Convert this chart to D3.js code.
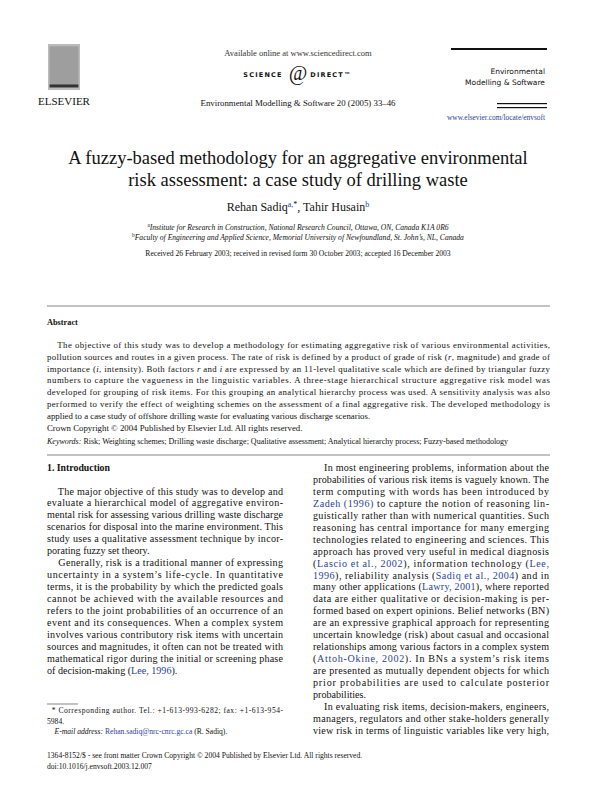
<!DOCTYPE html>
<html><head><meta charset="utf-8">
<script src="https://cdn.jsdelivr.net/npm/d3@7"></script>
<style>body{margin:0;background:#fff}svg{display:block}</style>
</head><body>
<script>
const abstractLines = [
"    The objective of this study was to develop a methodology for estimating aggregative risk of various environmental activities,~",
"pollution sources and routes in a given process. The rate of risk is defined by a product of grade of risk (|r|, magnitude) and grade of~",
"importance (|i|, intensity). Both factors |r| and |i| are expressed by an 11-level qualitative scale which are defined by triangular fuzzy~",
"numbers to capture the vagueness in the linguistic variables. A three-stage hierarchical structure aggregative risk model was~",
"developed for grouping of risk items. For this grouping an analytical hierarchy process was used. A sensitivity analysis was also~",
"performed to verify the effect of weighting schemes on the assessment of a final aggregative risk. The developed methodology is~",
"applied to a case study of offshore drilling waste for evaluating various discharge scenarios.",
"Crown Copyright © 2004 Published by Elsevier Ltd. All rights reserved."
];
const keywordLine = "|Keywords:| Risk; Weighting schemes; Drilling waste discharge; Qualitative assessment; Analytical hierarchy process; Fuzzy-based methodology";
const leftLines = [
"    The major objective of this study was to develop and~",
"evaluate a hierarchical model of aggregative environ-~",
"mental risk for assessing various drilling waste discharge~",
"scenarios for disposal into the marine environment. This~",
"study uses a qualitative assessment technique by incor-~",
"porating fuzzy set theory.",
"    Generally, risk is a traditional manner of expressing~",
"uncertainty in a system’s life-cycle. In quantitative~",
"terms, it is the probability by which the predicted goals~",
"cannot be achieved with the available resources and~",
"refers to the joint probabilities of an occurrence of an~",
"event and its consequences. When a complex system~",
"involves various contributory risk items with uncertain~",
"sources and magnitudes, it often can not be treated with~",
"mathematical rigor during the initial or screening phase~",
"of decision-making ([Lee, 1996]).",
];
const rightLines = [
"    In most engineering problems, information about the~",
"probabilities of various risk items is vaguely known. The~",
"term computing with words has been introduced by~",
"[Zadeh (1996)] to capture the notion of reasoning lin-~",
"guistically rather than with numerical quantities. Such~",
"reasoning has central importance for many emerging~",
"technologies related to engineering and sciences. This~",
"approach has proved very useful in medical diagnosis~",
"([Lascio et al., 2002]), information technology ([Lee,]~",
"[1996]), reliability analysis ([Sadiq et al., 2004]) and in~",
"many other applications ([Lawry, 2001]), where reported~",
"data are either qualitative or decision-making is per-~",
"formed based on expert opinions. Belief networks (BN)~",
"are an expressive graphical approach for representing~",
"uncertain knowledge (risk) about casual and occasional~",
"relationships among various factors in a complex system~",
"([Attoh-Okine, 2002]). In BNs a system’s risk items~",
"are presented as mutually dependent objects for which~",
"prior probabilities are used to calculate posterior~",
"probabilities.",
"    In evaluating risk items, decision-makers, engineers,~",
"managers, regulators and other stake-holders generally~",
"view risk in terms of linguistic variables like very high,~",
];
const footLines = [
"  * Corresponding author. Tel.: +1-613-993-6282; fax: +1-613-954-~",
"5984.",
"    |E-mail address:| [Rehan.sadiq@nrc-cnrc.gc.ca] (R. Sadiq)."
];
const bottomLines = [
"1364-8152/$ - see front matter Crown Copyright © 2004 Published by Elsevier Ltd. All rights reserved.",
"doi:10.1016/j.envsoft.2003.12.007"
];
const titleLines = ["A fuzzy-based methodology for an aggregative environmental","risk assessment: a case study of drilling waste"];
const affiliations = [
"^a^|Institute for Research in Construction, National Research Council, Ottawa, ON, Canada K1A 0R6|",
"^b^|Faculty of Engineering and Applied Science, Memorial University of Newfoundland, St. John’s, NL, Canada|"
];

const BLUE = "#2b3f9a", INK = "#111";
const svg = d3.select("body").append("svg").attr("width",595).attr("height",794)
  .style("font-family","'Liberation Serif','Times New Roman',serif").style("fill",INK);

function parse(s){
  const segs=[]; let cur="", st={i:false,l:false,sup:false};
  const push=()=>{ if(cur) segs.push({t:cur,...st}); cur=""; };
  for(const ch of s){
    if(ch==="["){push();st.l=true;} else if(ch==="]"){push();st.l=false;}
    else if(ch==="|"){push();st.i=!st.i;} else if(ch==="^"){push();st.sup=!st.sup;}
    else cur+=ch;
  }
  push(); return segs;
}
function line(g,x,y,str,size,width,opts={}){
  let just=false; if(str.endsWith("~")){just=true;str=str.slice(0,-1);}
  const t=g.append("text").attr("x",x).attr("y",y).attr("font-size",size).attr("xml:space","preserve");
  if(opts.anchor) t.attr("text-anchor",opts.anchor);
  if(opts.bold) t.attr("font-weight","bold");
  parse(str).forEach(s=>{
    const ts=t.append("tspan").text(s.t);
    if(s.i) ts.attr("font-style","italic");
    if(s.l) ts.attr("fill",BLUE);
    if(s.sup) ts.attr("font-size",size*0.7).attr("baseline-shift","super");
  });
  if(just && width) t.attr("textLength",width).attr("lengthAdjust","spacing");
  return t;
}

// Header
const logo=svg.append("g");
const lx=d3.scaleLinear().domain([0,1]).range([48,80]), ly=d3.scaleLinear().domain([0,1]).range([44,90]);
logo.append("rect").attr("x",lx(0)).attr("y",ly(0)).attr("width",lx(1)-lx(0)).attr("height",ly(1)-ly(0)).attr("fill","#bbb");
logo.append("rect").attr("x",lx(0.05)).attr("y",ly(0.05)).attr("width",lx(0.9)-lx(0)).attr("height",ly(0.85)-ly(0)).attr("fill","#8a8a8a").attr("opacity",0.6);
logo.append("rect").attr("x",lx(0.05)).attr("y",ly(0.88)).attr("width",lx(0.9)-lx(0)).attr("height",3).attr("fill","#333");
line(svg,64,105,"ELSEVIER",11,null,{anchor:"middle"});
line(svg,298,56,"Available online at www.sciencedirect.com",8.5,null,{anchor:"middle"}).attr("fill","#333");
svg.append("text").attr("x",263).attr("y",77).attr("text-anchor","middle").attr("font-size",6.5).attr("font-family","'DejaVu Sans',sans-serif").attr("font-weight","bold").attr("letter-spacing",1.2).text("SCIENCE");
svg.append("text").attr("x",298).attr("y",80).attr("text-anchor","middle").attr("font-size",20).attr("font-style","italic").text("@");
svg.append("text").attr("x",331).attr("y",77).attr("text-anchor","middle").attr("font-size",6.5).attr("font-family","'DejaVu Sans',sans-serif").attr("font-weight","bold").attr("letter-spacing",1.2).text("DIRECT™");
line(svg,298,106,"Environmental Modelling & Software 20 (2005) 33–46",8.8,null,{anchor:"middle"});
svg.append("rect").attr("x",451).attr("y",48).attr("width",96).attr("height",2).attr("fill","#111");
line(svg,545,74,"Environmental",7.5,null,{anchor:"end"}).attr("font-family","'DejaVu Sans',sans-serif");
line(svg,545,85,"Modelling & Software",7.5,null,{anchor:"end"}).attr("font-family","'DejaVu Sans',sans-serif");
svg.append("rect").attr("x",497).attr("y",103).attr("width",50).attr("height",1.2).attr("fill","#111");
svg.append("rect").attr("x",497).attr("y",107).attr("width",50).attr("height",1.2).attr("fill","#111");
line(svg,545,120,"[www.elsevier.com/locate/envsoft]",7.4,null,{anchor:"end"});

// Title block
titleLines.forEach((s,i)=>line(svg,298,164+i*22,s,18.5,null,{anchor:"middle"}));
const au=svg.append("text").attr("x",298).attr("y",211).attr("text-anchor","middle").attr("font-size",12);
au.append("tspan").text("Rehan Sadiq");
au.append("tspan").text("a,").attr("font-size",8).attr("baseline-shift","super").attr("fill",BLUE);
au.append("tspan").text("*").attr("font-size",8).attr("baseline-shift","super");
au.append("tspan").text(", Tahir Husain");
au.append("tspan").text("b").attr("font-size",8).attr("baseline-shift","super").attr("fill",BLUE);
affiliations.forEach((s,i)=>line(svg,298,230+i*10,s,7.6,null,{anchor:"middle"}));
line(svg,298,256,"Received 26 February 2003; received in revised form 30 October 2003; accepted 16 December 2003",7.6,null,{anchor:"middle"});

// Abstract
svg.append("line").attr("x1",47).attr("x2",550).attr("y1",306).attr("y2",306).attr("stroke","#333").attr("stroke-width",0.6);
line(svg,47,325,"Abstract",8.3,null,{bold:true});
abstractLines.forEach((s,i)=>line(svg,47,348+i*11.8,s,8.8,503));
line(svg,47,444,keywordLine,8,null);
svg.append("line").attr("x1",47).attr("x2",550).attr("y1",455).attr("y2",455).attr("stroke","#333").attr("stroke-width",0.6);

// Columns
line(svg,47,471,"1. Introduction",9.8,null,{bold:true});
const yl=d3.scaleLinear().domain([0,15]).range([494.5,674]);
leftLines.forEach((s,i)=>line(svg,47,yl(i),s,10.1,236));
const yr=d3.scaleLinear().domain([0,19]).range([471,698]);
rightLines.forEach((s,i)=>line(svg,313,yr(i),s,10.1,236));

// Footnotes
svg.append("line").attr("x1",47).attr("x2",78).attr("y1",704).attr("y2",704).attr("stroke","#333").attr("stroke-width",0.6);
footLines.forEach((s,i)=>line(svg,47,713+i*10.5,s,7.6,236));
bottomLines.forEach((s,i)=>line(svg,47,758+i*11,s,7.6,null));
</script>
</body></html>
